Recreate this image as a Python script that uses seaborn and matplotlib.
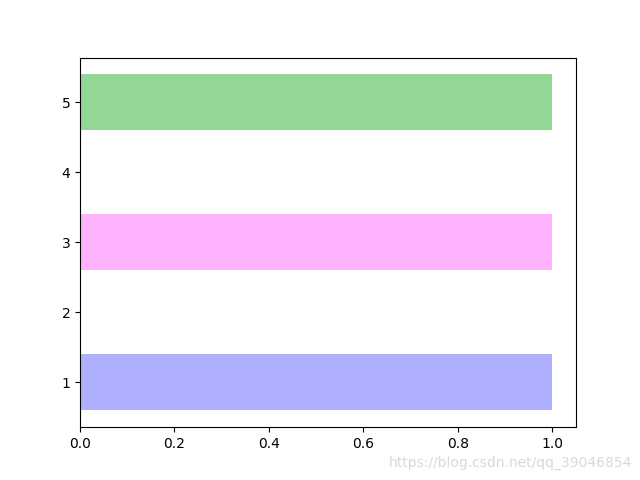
import pandas as pd
import matplotlib
matplotlib.use('Agg')
import matplotlib.pyplot as plt
import seaborn as sns

positions = [1, 3, 5]
widths = [1.0, 1.0, 1.0]
colors = ['#afafff', '#ffb3ff', '#93d696']

data = pd.DataFrame({'pos': positions, 'width': widths})

fig, ax = plt.subplots(figsize=(6.4, 4.8), dpi=100)
sns.barplot(data=data, x='width', y='pos', hue='pos', palette=colors,
            orient='h', native_scale=True, width=0.4, saturation=1,
            legend=False, ax=ax, errorbar=None)
ax.set_xlabel('')
ax.set_ylabel('')
ax.set_yticks([1, 2, 3, 4, 5])
ax.set_xticks([0.0, 0.2, 0.4, 0.6, 0.8, 1.0])
ax.set_xlim(0, 1.05)
ax.set_ylim(0.36, 5.64)
fig.text(0.988, 0.035, 'https://blog.csdn.net/qq_39046854', ha='right',
         va='center', fontsize=10, color='#d9d9d9')
fig.savefig('out.png')
